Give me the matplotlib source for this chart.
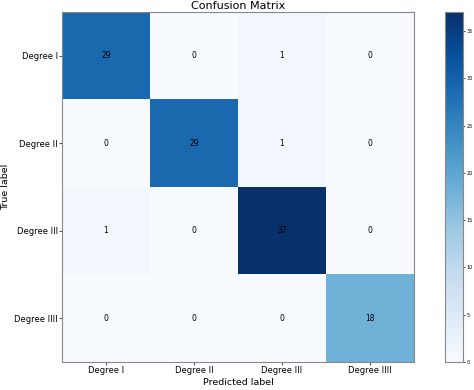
import numpy as np
import matplotlib
matplotlib.use('Agg')
import matplotlib.pyplot as plt

classes = ['Degree I', 'Degree II', 'Degree III', 'Degree IIII']
cm = np.array([[29, 0, 1, 0],
               [0, 29, 1, 0],
               [1, 0, 37, 0],
               [0, 0, 0, 18]])

fig = plt.figure(figsize=(4.74, 3.90), dpi=100)
ax = fig.add_axes([0.131, 0.072, 0.742, 0.897])
cax = fig.add_axes([0.939, 0.072, 0.038, 0.897])

im = ax.imshow(cm, interpolation='nearest', cmap=plt.cm.Blues, aspect='auto')
ax.set_title('Confusion Matrix', fontsize=8, pad=2)
cb = fig.colorbar(im, cax=cax)
cb.ax.tick_params(labelsize=3.5, length=1.5, width=0.5, pad=1)
cb.outline.set_edgecolor('#888888')

ax.set_xticks(np.arange(len(classes)))
ax.set_xticklabels(classes, fontsize=6)
ax.set_yticks(np.arange(len(classes)))
ax.set_yticklabels(classes, fontsize=6)
ax.tick_params(length=2, width=0.5, pad=1)
for s in ax.spines.values():
    s.set_edgecolor('#888888')

# cell counts
for i in range(cm.shape[0]):
    for j in range(cm.shape[1]):
        ax.text(j, i, str(cm[i, j]), ha='center', va='center', fontsize=5.5, color='black')

ax.set_ylabel('True label', fontsize=6.8, labelpad=3)
ax.set_xlabel('Predicted label', fontsize=6.8, labelpad=2)

plt.savefig('out.png', dpi=100)
